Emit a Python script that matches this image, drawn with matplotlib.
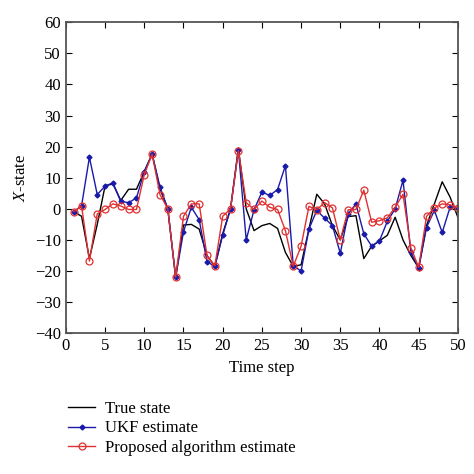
import matplotlib
matplotlib.use("Agg")
import matplotlib.pyplot as plt
import numpy as np

steps = list(range(1, 51))
true_state = [-0.9,-2.4,-16,-5,7.4,8,2.7,6.3,6.3,12,17.6,6.5,0,-22,-5.2,-5,-6.5,-15,-18.5,-8,
              0,19.5,0,-7,-5.4,-4.7,-6.3,-14,-18.5,-18,-6.5,4.7,1.6,-5.4,-10,-2.5,-2.2,-16,-12,-10.3,
              -8.5,-2.7,-10,-15,-19,-5.4,1.6,8.7,3.8,-2.7]
ukf = [-0.9,1,16.6,4.6,7.3,8.4,2.4,2,3.5,12,17.6,7,0,-22,-7.4,0.5,-3.5,-17,-18.5,-8.5,
       0,19,-10,-0.3,5.4,4.3,6.2,13.9,-18.3,-20,-6.5,-0.5,-3,-5.4,-14.3,-1.6,1.6,-8,-12,-10.3,
       -4,0,9.2,-14,-19,-6,-0.5,-7.6,0.5,0.3]
proposed = [-0.9,0.9,-16.8,-1.6,-0.2,1.6,0.9,-0.2,-0.2,11,17.6,4.6,0,-22,-2.4,1.6,1.6,-15,-18.3,-2.4,
            0,18.7,2,-0.2,2.5,0.5,-0.2,-7,-18.5,-12,0.8,-0.3,2,0.3,-10,-0.3,-0.2,6,-4.3,-3.8,
            -2.9,0.5,4.7,-12.5,-18.8,-2.4,0.3,1.6,1.3,0.3]

plt.rcParams['font.family'] = ['Liberation Serif', 'DejaVu Serif']
plt.rcParams['mathtext.fontset'] = 'custom'
plt.rcParams['mathtext.it'] = 'Liberation Serif:italic'
fig = plt.figure(figsize=(4.74, 4.74), dpi=100)
ax = fig.add_axes([0.139, 0.297, 0.827, 0.656])
ax.plot(steps, true_state, color='black', lw=1.0, label='True state')
ax.plot(steps, ukf, color='#1a1aaa', lw=1.0, marker='D', ms=2.5, label='UKF estimate')
ax.plot(steps, proposed, color='#e03030', lw=1.0, marker='o', ms=5, mfc='none', mew=0.9,
        label='Proposed algorithm estimate')
ax.set_xlim(0, 50)
ax.set_ylim(-40, 60)
ax.set_xticks(range(0, 51, 5))
ax.set_yticks(range(-40, 61, 10))
ax.tick_params(direction='in', labelsize=12, length=4, top=True, right=True)
for s in ax.spines.values():
    s.set_linewidth(1.3)
    s.set_color('#555555')
ax.set_xlabel('Time step', fontsize=12, labelpad=4)
ax.set_ylabel(r'$X$-state', fontsize=12)
fig.legend(loc='upper left', bbox_to_anchor=(0.13, 0.168), frameon=False, fontsize=12,
           handlelength=1.6, handletextpad=0.6, labelspacing=0.2, borderaxespad=0)
fig.savefig('out.png', dpi=100)
